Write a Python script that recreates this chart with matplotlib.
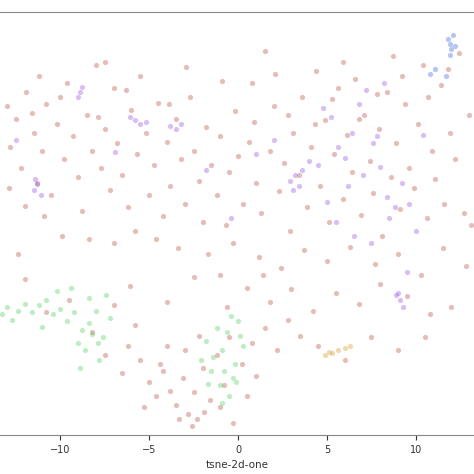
import matplotlib
matplotlib.use("Agg")
import matplotlib.pyplot as plt

red = [(-13.0,18.5),(-12.5,17.8),(-12.8,16.2),(-12.2,15.0),(-11.9,19.3),(-11.5,17.0),(-11.0,16.0),(-11.3,14.2),(-10.8,18.6),(-10.5,13.5),(-10.2,17.5),(-9.8,15.5),(-9.6,19.8),(-9.3,16.8),(-9.0,14.5),(-8.8,12.6),(-8.5,18.0),(-8.2,16.0),(-8.0,20.8),(-7.7,15.0),(-7.5,17.2),(-7.2,13.8),(-7.0,19.5),(-6.8,16.4),(-6.5,14.6),(-6.2,12.8),(-6.0,18.3),(-5.7,15.8),(-5.5,20.2),(-5.2,17.0),(-5.0,13.5),(-4.7,15.2),(-4.5,18.7),(-4.2,12.3),(-4.0,16.5),(-3.8,14.0),(-3.5,17.8),(-3.2,15.5),(-3.0,13.0),(-2.7,19.0),(-2.5,16.0),(-2.2,14.3),(-2.0,12.0),(-1.8,17.3),(-1.5,15.2),(-1.2,13.5),(-1.0,16.8),(-0.7,11.8),(-0.5,14.8),(-0.2,18.2),(0.0,15.7),(0.3,13.0),(0.6,16.5),(0.8,19.8),(1.0,14.2),(1.3,12.5),(1.5,21.6),(1.8,16.0),(2.0,18.5),(2.3,13.7),(2.6,15.3),(2.9,11.5),(3.1,17.0),(3.4,14.6),(3.6,19.0),(3.9,12.8),(4.1,16.2),(4.4,20.5),(4.6,14.0),(4.9,17.7),(5.1,12.0),(5.4,15.8),(5.6,19.5),(5.9,13.3),(6.1,16.9),(6.4,14.8),(6.6,20.0),(6.9,12.4),(7.1,18.0),(7.4,15.4),(7.6,13.6),(7.9,17.2),(8.1,11.2),(8.4,19.3),(8.6,14.5),(8.9,16.4),(9.1,12.7),(9.4,18.6),(9.6,15.0),(9.9,13.9),(10.1,17.5),(10.4,20.8),(10.6,12.2),(10.9,16.0),(11.1,14.4),(11.4,19.7),(11.6,13.0),(11.9,17.0),(12.2,15.5),(12.4,21.5),(12.7,12.5),(13.0,18.0),
(-12.9,13.9),(-12.0,12.9),(-10.9,12.3),(-9.9,11.2),(-8.4,11.0),(-7.0,10.8),(-5.8,11.5),(-4.6,11.0),(-3.4,10.5),(-1.7,10.2),(-0.3,10.8),(1.2,10.0),(2.4,9.4),(3.7,10.4),(5.0,9.8),(6.3,10.6),(7.7,9.6),(9.0,10.2),(10.3,9.0),(11.5,10.5),(12.8,9.5),(-11.6,18.1),(-10.0,19.0),(-7.9,17.9),(-6.3,19.4),(-3.9,18.6),(-0.9,19.9),(0.9,17.6),(2.8,18.0),(4.3,17.5),(5.3,18.9),(6.8,17.8),(7.8,19.2),(9.2,20.2),(10.7,19.0),(11.8,20.6),(-2.9,20.7),(-7.5,21.0),(-11.2,20.2),(2.1,20.3),(5.9,21.0),(8.7,21.3),(-12.4,10.2),(-1.0,9.0),(0.5,8.3),(1.8,7.5),(3.0,8.2),(4.2,7.0),(5.5,8.0),(6.8,7.4),(8.0,8.5),(9.5,7.8),(10.8,6.8),(12.0,7.2),(13.1,11.8),
(-12.0,8.8),(-10.8,6.9),(-9.5,7.6),(-8.2,5.8),(-7.0,7.3),(-6.2,5.0),(-5.5,4.2),(-5.0,3.0),(-4.6,2.2),(-4.2,3.6),(-3.8,2.5),(-3.5,1.7),(-3.1,3.2),(-2.8,1.2),(-2.5,2.4),(-2.3,0.9),(-2.0,3.8),(-1.6,2.0),(-1.2,4.5),(-0.8,2.8),(-0.5,5.5),(0.2,4.0),(0.8,5.2),(1.5,6.0),(2.2,4.8),(2.8,6.5),(3.5,5.6),(-5.3,1.6),(-4.0,5.0),(-3.0,4.8),(-2.2,5.6),(-6.5,3.5),(-5.8,6.2),(-4.4,4.0),(-3.3,0.9),(-2.6,0.5),(-1.9,1.3),(-1.0,1.6),(-0.3,0.7),(0.5,2.2),(1.0,3.3),(-7.5,4.5),(4.5,5.0),(6.0,4.2),(7.5,5.5),(9.0,4.8),(10.5,5.5),(-6.1,8.4),(-4.0,7.5),(-2.5,8.9),(-0.6,7.2),(1.4,9.0)]
red_x = [p[0] for p in red]
red_y = [p[1] for p in red]

purple_x = [-11.5,-11.3,-11.1,-11.4,-8.9,-8.8,-9.0,-6.1,-5.8,-5.5,-5.2,-3.8,-3.5,-3.2,-0.4,2.9,3.2,3.4,3.1,3.6,
            4.8,5.2,5.6,6.0,6.4,6.8,7.2,7.6,8.0,8.4,8.8,9.2,9.6,10.0,5.5,6.5,7.5,8.5,9.5,4.5,6.2,7.8,9.0,9.1,9.3,8.9,
            1.0,2.0,4.0,5.0,7.0,8.2,10.4,-1.8,-6.9,-12.5]
purple_y = [13.8,14.1,13.5,14.4,19.3,19.6,19.0,17.9,17.7,17.5,17.6,17.4,17.2,17.5,12.2,14.3,14.6,14.0,13.8,14.9,
            18.4,17.9,16.2,15.6,17.0,18.6,19.4,16.4,15.1,13.4,12.8,14.2,13.0,11.5,12.0,11.2,10.8,12.2,9.2,15.2,14.0,16.8,8.0,7.6,7.2,7.9,
            15.8,16.6,15.4,13.1,14.6,19.8,16.9,14.9,15.9,16.6]

blue_x = [11.8,11.9,12.0,12.1,11.9,12.2,10.8,11.1,11.7]
blue_y = [22.3,22.0,21.7,22.5,21.4,21.9,20.3,20.6,20.2]

green_x = [-13.3,-13.0,-12.7,-12.4,-12.0,-11.6,-11.2,-10.8,-10.4,-10.0,-9.6,-9.2,-8.8,-8.4,-8.0,-7.6,-7.2,-9.0,-8.6,-8.2,-7.8,-8.4,-7.4,-10.2,-9.4,-11.0,-8.9,-7.9,
           -2.1,-1.8,-1.5,-1.2,-0.9,-0.6,-0.3,0.0,0.3,-1.0,-0.5,-1.4,-0.2,-0.8,0.1,-1.7,-0.4,-0.9,-0.1]
green_y = [6.8,7.2,6.5,7.0,7.4,6.9,7.3,7.6,6.8,7.1,6.4,6.9,5.9,6.3,7.0,5.5,6.6,5.2,4.8,5.7,4.2,7.7,7.9,8.1,8.3,6.1,3.8,5.2,
           4.2,5.3,3.6,6.0,4.8,5.8,3.2,6.4,5.0,2.8,2.2,4.4,4.0,3.6,5.6,2.9,6.7,1.8,3.0]

orange_x = [4.9,5.1,5.3,5.6,6.0,6.3]
orange_y = [4.5,4.7,4.6,4.8,4.9,5.0]

fig = plt.figure(figsize=(4.74, 4.74), dpi=100)
ax = fig.add_axes([-0.05, 0.082, 1.1, 0.893])
kw = dict(s=14, alpha=0.4, linewidths=0)
ax.scatter(red_x, red_y, color="#c0584b", **kw)
ax.scatter(purple_x, purple_y, color="#9b5de5", **kw)
ax.scatter(blue_x, blue_y, color="#4a6fe0", **kw)
ax.scatter(green_x, green_y, color="#5bd26a", **kw)
ax.scatter(orange_x, orange_y, color="#d9a032", **kw)
ax.set_xlim(-14.72, 14.6)
ax.set_ylim(0, 23.8)
ax.set_xticks([-10, -5, 0, 5, 10])
ax.set_yticks([])
ax.tick_params(labelsize=7, colors="#333333")
ax.set_xlabel("tsne-2d-one", fontsize=7.5, color="#333333")
for s in ax.spines.values():
    s.set_color("#888888")
fig.savefig("out.png", dpi=100)
